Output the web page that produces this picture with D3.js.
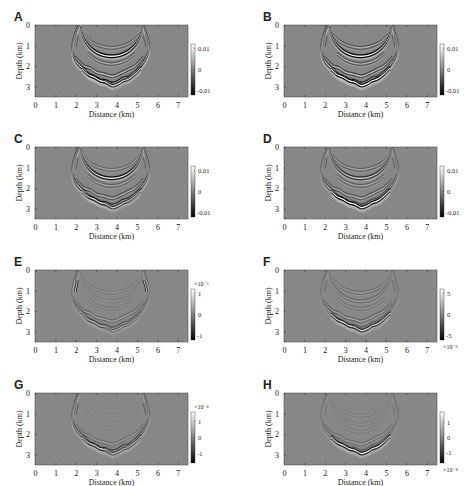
<!DOCTYPE html>
<html><head><meta charset="utf-8">
<script src="https://cdn.jsdelivr.net/npm/d3@7"></script>
<style>body{margin:0;background:#fff}svg text{font-family:"Liberation Serif","DejaVu Serif",serif;fill:#222}</style>
</head><body><svg id="c" width="474" height="486"></svg>
<script>
const panels = ["A","B","C","D","E","F","G","H"];
const xTicks = [0,1,2,3,4,5,6,7];
const yTicks = [0,1,2,3];
// wavefront shapes (distance km, depth km)
const circleX = [2.22,2.27,2.43,2.67,2.99,3.35,3.75,4.15,4.51,4.83,5.07,5.23,5.28];
const circleY = [0,0.40,0.77,1.08,1.33,1.48,1.53,1.48,1.33,1.08,0.77,0.40,0];
const outerX = [2.2,2.0,1.85,1.82,1.95,2.2,2.45,2.65,2.95,3.2,3.45,3.75,4.05,4.3,4.6,4.9,5.15,5.4,5.6,5.55,5.4,5.3];
const outerY = [-0.1,0.4,0.9,1.3,1.7,2.0,2.2,2.42,2.55,2.7,2.72,2.85,2.78,2.62,2.55,2.3,2.05,1.7,1.25,0.8,0.35,-0.1];
const bottomX = [2.3,2.6,2.9,3.2,3.45,3.8,4.1,4.35,4.6,4.9,5.2];
const bottomY = [2.15,2.42,2.55,2.72,2.78,2.95,2.85,2.7,2.62,2.4,2.1];
const innerX = [2.0,2.4,2.7,3.0,3.4,3.8,4.2,4.5,4.9,5.3];
const innerY = [1.6,2.0,2.1,2.3,2.4,2.5,2.35,2.2,2.0,1.6];
const arc1X = [2.4,2.8,3.3,3.75,4.2,4.7,5.1];
const arc1Y = [0.5,0.85,1.05,1.12,1.05,0.85,0.5];
const arc2X = [2.6,3.0,3.4,3.75,4.1,4.5,4.9];
const arc2Y = [1.4,1.7,1.85,1.9,1.85,1.7,1.4];
const blipLX = [2.05,2.0,1.95];
const blipLY = [0.5,0.8,1.05];
const blipRX = [5.35,5.45,5.5];
const blipRY = [0.5,0.8,1.05];
const shapes = [[circleX,circleY],[outerX,outerY],[bottomX,bottomY],[innerX,innerY],[arc1X,arc1Y],[arc2X,arc2Y],[blipLX,blipLY],[blipRX,blipRY]];
// amplitude of each shape per panel
const amps = {
 A:[1.0,0.95,0.8,0.5,0.3,0.35,0.5,0.5],
 B:[1.0,0.85,1.0,0.55,0.4,0.4,0.5,0.5],
 C:[0.9,0.8,0.7,0.45,0.25,0.3,0.4,0.4],
 D:[0.7,0.55,1.0,0.4,0.3,0.3,0.4,0.4],
 E:[0.1,0.4,0.35,0.25,0.1,0.1,0.95,0.95],
 F:[0.25,0.3,0.75,0.3,0.2,0.15,0.3,0.3],
 G:[0.03,0.6,0.55,0.2,0.05,0.05,0.5,0.5],
 H:[0.08,0.3,0.85,0.2,0.08,0.08,0.2,0.2]
};
const cbTicks = {
 A:[0.01,0,-0.01],B:[0.01,0,-0.01],C:[0.01,0,-0.01],D:[0.01,0,-0.01],
 E:[1,0,-1],F:[5,0,-5],G:[1,0,-1],H:[1,0,-1]
};
const cbRange = {A:0.012,B:0.012,C:0.012,D:0.012,E:1.2,F:6,G:1.6,H:1.7};
const cbExp = {E:["×10⁻⁵","top"],F:["×10⁻⁶","bottom"],G:["×10⁻⁴","top"],H:["×10⁻⁴","bottom"]};

const svg = d3.select("#c");
const defs = svg.append("defs");
const g0 = defs.append("linearGradient").attr("id","cb").attr("x1",0).attr("x2",0).attr("y1",0).attr("y2",1);
g0.append("stop").attr("offset",0).attr("stop-color","#fff");
g0.append("stop").attr("offset",1).attr("stop-color","#000");
defs.append("filter").attr("id","bl").append("feGaussianBlur").attr("stdDeviation",0.45);

const colX = [35,284], rowY = [25,147,270,393], W = 153, H = 72;
panels.forEach((p,i)=>{
  const ox = colX[i%2], oy = rowY[Math.floor(i/2)];
  const g = svg.append("g").attr("transform",`translate(${ox},${oy})`);
  const x = d3.scaleLinear().domain([0,7.5]).range([0,W]);
  const y = d3.scaleLinear().domain([0,3.5]).range([0,H]);
  const cid = "clip"+p;
  defs.append("clipPath").attr("id",cid).append("rect").attr("width",W).attr("height",H);
  g.append("rect").attr("width",W).attr("height",H).attr("fill","#878787");
  const img = g.append("g").attr("clip-path",`url(#${cid})`).append("g").attr("filter","url(#bl)");
  const line = d3.line().curve(d3.curveCatmullRom).x(d=>x(d[0])).y(d=>y(d[1]));
  shapes.forEach((s,k)=>{
    const a = amps[p][k];
    const pts = s[0].map((v,j)=>[v,s[1][j]]);
    const sw = k===0?1.6:(k>=6?1.8:1.4);
    [[-1.4,"#000"],[0,"#fff"],[1.4,"#000"],[2.6,"#fff"]].forEach(([dy,c],m)=>{
      img.append("path").attr("d",line(pts)).attr("transform",`translate(${k>=6?dy*(k===6?-0.6:0.6):0},${k>=6?0:dy})`)
        .attr("fill","none").attr("stroke",c).attr("stroke-width",sw)
        .attr("stroke-opacity",a*(m===3?0.45:0.9));
    });
    if(k===1||k===2){ // secondary parallel fronts
      [4.5,-4].forEach(d=>img.append("path").attr("d",line(pts)).attr("transform",`translate(0,${d})`)
        .attr("fill","none").attr("stroke",d>0?"#fff":"#333").attr("stroke-width",0.9).attr("stroke-opacity",a*0.35));
    }
  });
  g.append("rect").attr("width",W).attr("height",H).attr("fill","none").attr("stroke","#555").attr("stroke-width",0.6);
  const xa = g.append("g").attr("transform",`translate(0,${H})`).call(d3.axisBottom(x).tickValues(xTicks).tickSize(-2).tickPadding(5).tickFormat(d3.format("d")));
  g.append("g").call(d3.axisTop(x).tickValues(xTicks).tickSize(-2).tickFormat(""));
  const ya = g.append("g").call(d3.axisLeft(y).tickValues(yTicks).tickSize(-2).tickPadding(5).tickFormat(d3.format("d")));
  [xa,ya].forEach(a=>{a.selectAll("text").attr("font-size",8).attr("fill","#222");});
  g.selectAll(".tick line").attr("stroke","#555");
  g.selectAll(".domain").remove();
  g.append("text").attr("x",W/2).attr("y",H+20).attr("text-anchor","middle").attr("font-size",8).text("Distance (km)");
  g.append("text").attr("transform",`translate(-13,${H/2}) rotate(-90)`).attr("text-anchor","middle").attr("font-size",8).text("Depth (km)");
  svg.append("text").attr("x",ox-21).attr("y",oy-4).style("font-family","Liberation Sans,Arial,sans-serif").attr("font-weight","bold").attr("font-size",12).text(p);
  // colorbar
  const cb = g.append("g").attr("transform",`translate(${W+3},19)`);
  const cs = d3.scaleLinear().domain([cbRange[p],-cbRange[p]]).range([0,51]);
  cb.append("rect").attr("width",4).attr("height",51).attr("fill","url(#cb)").attr("stroke","#333").attr("stroke-width",0.4);
  cbTicks[p].forEach(v=>{
    cb.append("line").attr("x1",3).attr("x2",4).attr("y1",cs(v)).attr("y2",cs(v)).attr("stroke","#333").attr("stroke-width",0.5);
    cb.append("text").attr("x",v<0?6:7).attr("y",cs(v)+2.5).attr("font-size",6.5).text(v);
  });
  if(cbExp[p]){
    const [t,pos]=cbExp[p];
    cb.append("text").attr("x",3).attr("y",pos==="top"?-3:60).attr("font-size",6).text(t);
  }
});
</script></body></html>
